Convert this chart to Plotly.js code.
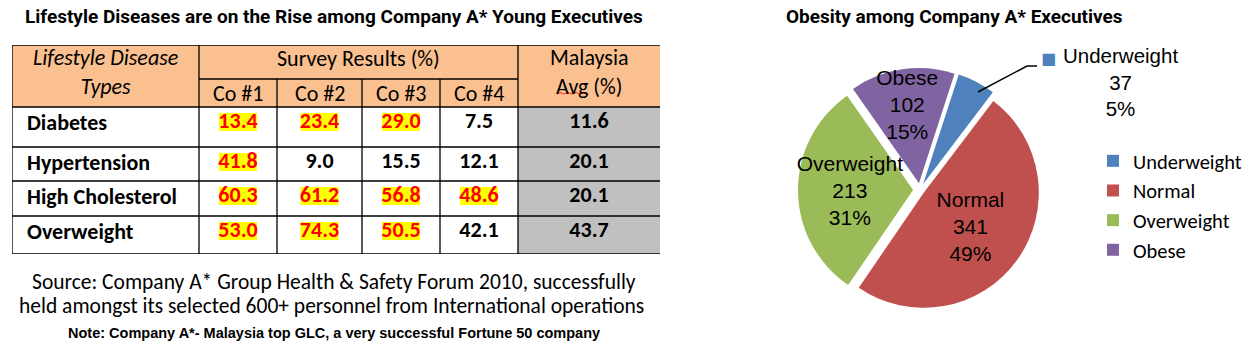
<!DOCTYPE html>
<html>
<head>
<meta charset="utf-8">
<script src="https://cdn.plot.ly/plotly-3.0.1.min.js"></script>
<style>html,body{margin:0;padding:0;background:#fff;}#chart{width:1254px;height:353px;}</style>
</head>
<body>
<div id="chart"></div>
<script>
// ---------- data ----------
const diseases = ['Diabetes', 'Hypertension', 'High Cholesterol', 'Overweight'];
const companies = ['Co #1', 'Co #2', 'Co #3', 'Co #4'];
const co1 = [13.4, 41.8, 60.3, 53.0];
const co2 = [23.4, 9.0, 61.2, 74.3];
const co3 = [29.0, 15.5, 56.8, 50.5];
const co4 = [7.5, 12.1, 48.6, 42.1];
const malaysiaAvg = [11.6, 20.1, 20.1, 43.7];
const weightClasses = ['Underweight', 'Normal', 'Overweight', 'Obese'];
const headcount = [37, 341, 213, 102];

// ---------- layout constants ----------
const W = 1254, H = 353;
const TBL = {left: 12, right: 660, top: 45, bottom: 254};
const colEdges = [0, 187, 265, 350, 428, 506, 648];
const rowEdges = [0, 34, 62, 102, 136, 171, 209];
const tableFont = 'Carlito, Lato, "Open Sans", sans-serif';
const titleFont = 'Roboto, "Liberation Sans", sans-serif';
const arialFont = '"Liberation Sans", Arial, sans-serif';
const colors = ['#4F81BD', '#C0504D', '#9BBB59', '#8064A2'];

const colCenter = j => (colEdges[j] + colEdges[j + 1]) / 2;
const coSeries = [co1, co2, co3, co4];

// ---------- table cells (scatter text) ----------
const cx = [], cy = [], ct = [], cc = [];
const shapes = [];
shapes.push({type: 'rect', xref: 'x', yref: 'y', x0: 0, x1: colEdges[6], y0: 0, y1: rowEdges[2],
  fillcolor: '#FAC090', line: {width: 0}, layer: 'below'});
shapes.push({type: 'rect', xref: 'x', yref: 'y', x0: colEdges[5], x1: colEdges[6], y0: rowEdges[2], y1: rowEdges[6],
  fillcolor: '#C0C0C0', line: {width: 0}, layer: 'below'});

diseases.forEach((d, i) => {
  const top = rowEdges[i + 2];
  coSeries.forEach((s, j) => {
    const v = s[i];
    const hi = v > malaysiaAvg[i];
    cx.push(colCenter(j + 1)); cy.push(top + 15);
    ct.push('<b>' + v.toFixed(1) + '</b>');
    cc.push(hi ? '#FF0000' : '#000000');
    if (hi) {
      shapes.push({type: 'rect', xref: 'x', yref: 'y', x0: colCenter(j + 1) - 19, x1: colCenter(j + 1) + 19,
        y0: top + 6, y1: top + 24, fillcolor: '#FFFF00', line: {width: 0}, layer: 'below'});
    }
  });
  cx.push(colCenter(5)); cy.push(top + 15);
  ct.push('<b>' + malaysiaAvg[i].toFixed(1) + '</b>'); cc.push('#000000');
});

const lineStyle = {color: '#000000', width: 1.3};
const hLine = (y, x0, x1) => shapes.push({type: 'line', xref: 'x', yref: 'y', x0: x0, x1: x1, y0: y, y1: y, line: lineStyle, layer: 'below'});
const vLine = (x, y0, y1) => shapes.push({type: 'line', xref: 'x', yref: 'y', x0: x, x1: x, y0: y0, y1: y1, line: lineStyle, layer: 'below'});
hLine(rowEdges[0], 0, colEdges[6]);
hLine(rowEdges[1], colEdges[1], colEdges[5]);
for (let r = 2; r < rowEdges.length; r++) hLine(rowEdges[r], 0, colEdges[6]);
vLine(colEdges[0], 0, rowEdges[6]);
vLine(colEdges[1], 0, rowEdges[6]);
for (let c = 2; c <= 4; c++) vLine(colEdges[c], rowEdges[1], rowEdges[6]);
vLine(colEdges[5], 0, rowEdges[6]);

// spell-check squiggle under "Avg"
(function () {
  let p = 'M546,49';
  for (let k = 0; k < 8; k++) p += ' L' + (548 + 4 * k) + ',' + (k % 2 ? 49 : 47.5);
  shapes.push({type: 'path', xref: 'x', yref: 'y', path: p, line: {color: '#FF0000', width: 0.8}, layer: 'above'});
})();

// ---------- annotations ----------
const ann = [];
const tf = (size, color) => ({family: tableFont, size: size, color: color || '#000000'});
ann.push({xref: 'x', yref: 'y', x: colCenter(0), y: 26.5, text: '<i>Lifestyle Disease<br>Types</i>',
  showarrow: false, font: tf(22), xanchor: 'center', yanchor: 'middle'});
ann.push({xref: 'x', yref: 'y', x: (colEdges[1] + colEdges[5]) / 2, y: 13, text: 'Survey Results (%)',
  showarrow: false, font: tf(22), xanchor: 'center', yanchor: 'middle'});
companies.forEach((c, j) => ann.push({xref: 'x', yref: 'y', x: colCenter(j + 1), y: 48, text: c,
  showarrow: false, font: tf(22), xanchor: 'center', yanchor: 'middle'}));
ann.push({xref: 'x', yref: 'y', x: colCenter(5), y: 27, text: 'Malaysia<br>Avg (%)',
  showarrow: false, font: tf(22), xanchor: 'center', yanchor: 'middle'});
diseases.forEach((d, i) => ann.push({xref: 'x', yref: 'y', x: 13, y: rowEdges[i + 2] + 15, text: '<b>' + d + '</b>',
  showarrow: false, font: tf(22), xanchor: 'left', yanchor: 'middle'}));

const px = v => v / W, py = v => 1 - v / H;
ann.push({xref: 'paper', yref: 'paper', x: px(334), y: py(17), text: '<b>Lifestyle Diseases are on the Rise among Company A* Young Executives</b>',
  showarrow: false, font: {family: titleFont, size: 19, color: '#000'}, xanchor: 'center', yanchor: 'middle'});
ann.push({xref: 'paper', yref: 'paper', x: px(954), y: py(17), text: '<b>Obesity among Company A* Executives</b>',
  showarrow: false, font: {family: titleFont, size: 19, color: '#000'}, xanchor: 'center', yanchor: 'middle'});
ann.push({xref: 'paper', yref: 'paper', x: px(334), y: py(282), text: 'Source: Company A* Group Health &amp; Safety Forum 2010, successfully',
  showarrow: false, font: tf(21.5), xanchor: 'center', yanchor: 'middle'});
ann.push({xref: 'paper', yref: 'paper', x: px(331), y: py(306), text: 'held amongst its selected 600+ personnel from International operations',
  showarrow: false, font: tf(21.5), xanchor: 'center', yanchor: 'middle'});
ann.push({xref: 'paper', yref: 'paper', x: px(334), y: py(333), text: '<b>Note: Company A*- Malaysia top GLC, a very successful Fortune 50 company</b>',
  showarrow: false, font: {family: arialFont, size: 14.5, color: '#000'}, xanchor: 'center', yanchor: 'middle'});

// Underweight label (outside, with leader line) built from the data
const total = headcount.reduce((a, b) => a + b, 0);
const uwPct = Math.round(100 * headcount[0] / total) + '%';
ann.push({xref: 'paper', yref: 'paper', x: px(1120), y: py(82), text: weightClasses[0] + '<br>' + headcount[0] + '<br>' + uwPct,
  showarrow: false, font: {family: arialFont, size: 20.5, color: '#000'}, xanchor: 'center', yanchor: 'middle'});
ann.push({xref: 'paper', yref: 'paper', x: px(1048), y: py(58), text: '■',
  showarrow: false, font: {family: 'DejaVu Sans, sans-serif', size: 16, color: colors[0]}, xanchor: 'center', yanchor: 'middle'});
shapes.push({type: 'path', xref: 'paper', yref: 'paper',
  path: 'M' + px(978) + ',' + py(92) + ' L' + px(1027) + ',' + py(66) + ' L' + px(1037) + ',' + py(66),
  line: {color: '#000', width: 1.5}});

// ---------- traces ----------
const cellTrace = {type: 'scatter', mode: 'text', x: cx, y: cy, text: ct,
  textfont: {family: tableFont, size: 22, color: cc}, textposition: 'middle center',
  hoverinfo: 'skip', showlegend: false, xaxis: 'x', yaxis: 'y'};

const pieTrace = {type: 'pie', labels: weightClasses, values: headcount, sort: false,
  direction: 'clockwise', rotation: 18,
  marker: {colors: colors, line: {width: 0}},
  pull: [0.06, 0.04, 0.06, 0.06],
  texttemplate: ['', '%{label}<br>%{value}<br>%{percent:.0%}', '%{label}<br>%{value}<br>%{percent:.0%}', '%{label}<br>%{value}<br>%{percent:.0%}'],
  textposition: ['none', 'inside', 'inside', 'inside'],
  insidetextorientation: 'horizontal',
  textfont: {family: arialFont, size: 21, color: '#000'},
  domain: {x: [px(795), px(1045)], y: [py(312), py(68)]},
  hoverinfo: 'skip'};

const layout = {
  width: W, height: H,
  margin: {l: 0, r: 0, t: 0, b: 0},
  paper_bgcolor: '#ffffff', plot_bgcolor: '#ffffff',
  xaxis: {domain: [px(TBL.left), px(TBL.right)], range: [0, colEdges[6]], visible: false, fixedrange: true},
  yaxis: {domain: [py(TBL.bottom), py(TBL.top)], range: [rowEdges[6], 0], visible: false, fixedrange: true},
  shapes: shapes,
  annotations: ann,
  uniformtext: {minsize: 20, mode: 'show'},
  showlegend: true,
  legend: {x: px(1093), y: py(141), xanchor: 'left', yanchor: 'top', bgcolor: 'rgba(0,0,0,0)',
    font: {family: tableFont, size: 20.5, color: '#000'}, traceorder: 'normal'}
};

Plotly.newPlot('chart', [cellTrace, pieTrace], layout, {displayModeBar: false, staticPlot: true});
</script>
</body>
</html>
